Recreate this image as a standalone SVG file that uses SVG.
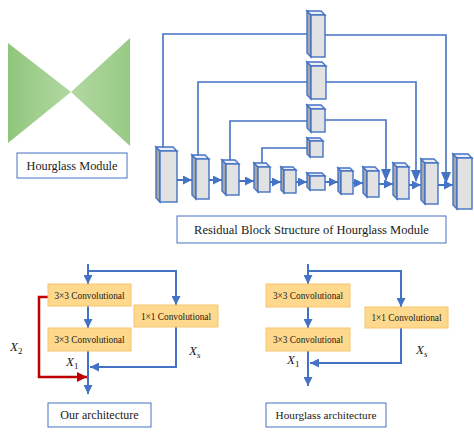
<svg xmlns="http://www.w3.org/2000/svg" width="474" height="436" viewBox="0 0 474 436">
<defs>
<linearGradient id="gL" x1="0" y1="0" x2="1" y2="0">
<stop offset="0" stop-color="#8fc67c"/><stop offset="1" stop-color="#b3d8a2"/>
</linearGradient>
<linearGradient id="gR" x1="0" y1="0" x2="1" y2="0">
<stop offset="0" stop-color="#b3d8a2"/><stop offset="1" stop-color="#97ca84"/>
</linearGradient>
<marker id="ab" viewBox="0 0 10 10" refX="10" refY="5" markerWidth="9" markerHeight="9" markerUnits="userSpaceOnUse" orient="auto">
<path d="M0,0 L10,5 L0,10 z" fill="#4472c4"/>
</marker>
<marker id="ar" viewBox="0 0 10 10" refX="10" refY="5" markerWidth="10" markerHeight="10" markerUnits="userSpaceOnUse" orient="auto">
<path d="M0,0 L10,5 L0,10 z" fill="#c00000"/>
</marker>
</defs>
<style>
.ln{fill:none;stroke:#4472c4;stroke-width:1.6}
.arw{fill:none;stroke:#4472c4;stroke-width:2;marker-end:url(#ab)}
.red{fill:none;stroke:#c00000;stroke-width:2.5;marker-end:url(#ar)}
.fr{fill:#e2e2e2;stroke:#4472c4;stroke-width:1.4}
.sd{fill:#a8a8a8;stroke:#4472c4;stroke-width:1.4}
.tp{fill:#e9eef8;stroke:#4472c4;stroke-width:1.4}
.lbl{fill:#ffffff;stroke:#4472c4;stroke-width:1}
.conv{fill:#fed88c;stroke:#f7c46e;stroke-width:1}
.t{font-family:"Liberation Serif","Times New Roman",serif;fill:#1a1a1a;text-anchor:middle}
.ct{font-family:"Liberation Serif","Times New Roman",serif;fill:#1a1a1a;text-anchor:middle;font-size:9.3px}
.x{font-family:"Liberation Serif","Times New Roman",serif;fill:#1a1a1a;font-style:italic;font-size:13px}
.sub{font-style:normal;font-size:9px}
</style>
<rect width="474" height="436" fill="#ffffff"/>

<g id="hourglass-shape">
<polygon points="8,43 8,143 71,92" fill="url(#gL)"/>
<polygon points="130,38 130,146 71,92" fill="url(#gR)"/>
</g>
<g id="hourglass-label">
<rect class="lbl" x="17" y="153" width="110" height="25"/>
<text class="t" x="72" y="170" font-size="12.3">Hourglass Module</text>
</g>

<g id="connectors-residual">
<polyline class="ln" points="163,147 163,34 307,34"/>
<polyline class="ln" points="325,35 446,35 446,182"/>
<polyline class="ln" points="198,155 198,82 307,82"/>
<polyline class="ln" points="326,82 416,82 416,181"/>
<polyline class="ln" points="230,160 230,121 307,121"/>
<polyline class="ln" points="325,120 386,120 386,180"/>
<polyline class="ln" points="262,163 262,148 307,148"/>
<path d="M446,172 L441,172 L446,184 L451,172 z" fill="#4472c4"/>
<path d="M416,170 L411,170 L416,182 L421,170 z" fill="#4472c4"/>
<path d="M386,169 L381,169 L386,181 L391,169 z" fill="#4472c4"/>
<line class="arw" x1="177" y1="180" x2="192" y2="180"/>
<line class="arw" x1="209" y1="180" x2="222" y2="180"/>
<line class="arw" x1="239" y1="181" x2="254" y2="181"/>
<line class="arw" x1="270" y1="182" x2="281" y2="182"/>
<line class="arw" x1="296" y1="182" x2="307" y2="182"/>
<line class="arw" x1="325" y1="182" x2="338" y2="182"/>
<line class="arw" x1="353" y1="183" x2="363" y2="183"/>
<line class="arw" x1="379" y1="184" x2="393" y2="184"/>
<line class="arw" x1="409" y1="185" x2="421" y2="185"/>
<line class="arw" x1="438" y1="185" x2="453" y2="185"/>
</g>

<g id="block-b1"><polygon class="sd" points="156,147 160,151 160,202 156,198"/><polygon class="tp" points="156,147 173,147 177,151 160,151"/><rect class="fr" x="160" y="151" width="17" height="51"/></g>
<g id="block-b2"><polygon class="sd" points="192,155 196,159 196,199 192,195"/><polygon class="tp" points="192,155 205,155 209,159 196,159"/><rect class="fr" x="196" y="159" width="13" height="40"/></g>
<g id="block-b3"><polygon class="sd" points="222,160 226,164 226,195 222,191"/><polygon class="tp" points="222,160 235,160 239,164 226,164"/><rect class="fr" x="226" y="164" width="13" height="31"/></g>
<g id="block-b4"><polygon class="sd" points="254,163 258,167 258,192 254,188"/><polygon class="tp" points="254,163 266,163 270,167 258,167"/><rect class="fr" x="258" y="167" width="12" height="25"/></g>
<g id="block-b5"><polygon class="sd" points="281,167 284,170 284,193 281,190"/><polygon class="tp" points="281,167 293,167 296,170 284,170"/><rect class="fr" x="284" y="170" width="12" height="23"/></g>
<g id="block-b6"><polygon class="sd" points="307,173 310,176 310,190 307,187"/><polygon class="tp" points="307,173 322,173 325,176 310,176"/><rect class="fr" x="310" y="176" width="15" height="14"/></g>
<g id="block-b7"><polygon class="sd" points="338,168 341,171 341,194 338,191"/><polygon class="tp" points="338,168 350,168 353,171 341,171"/><rect class="fr" x="341" y="171" width="12" height="23"/></g>
<g id="block-b8"><polygon class="sd" points="363,167 367,171 367,197 363,193"/><polygon class="tp" points="363,167 375,167 379,171 367,171"/><rect class="fr" x="367" y="171" width="12" height="26"/></g>
<g id="block-b9"><polygon class="sd" points="393,163 397,167 397,199 393,195"/><polygon class="tp" points="393,163 405,163 409,167 397,167"/><rect class="fr" x="397" y="167" width="12" height="32"/></g>
<g id="block-b10"><polygon class="sd" points="421,159 425,163 425,204 421,200"/><polygon class="tp" points="421,159 434,159 438,163 425,163"/><rect class="fr" x="425" y="163" width="13" height="41"/></g>
<g id="block-b11"><polygon class="sd" points="453,154 457,158 457,209 453,205"/><polygon class="tp" points="453,154 468,154 472,158 457,158"/><rect class="fr" x="457" y="158" width="15" height="51"/></g>
<g id="block-t1"><polygon class="sd" points="307,11 311,15 311,57 307,53"/><polygon class="tp" points="307,11 321,11 325,15 311,15"/><rect class="fr" x="311" y="15" width="14" height="42"/></g>
<g id="block-t2"><polygon class="sd" points="307,62 311,66 311,99 307,95"/><polygon class="tp" points="307,62 322,62 326,66 311,66"/><rect class="fr" x="311" y="66" width="15" height="33"/></g>
<g id="block-t3"><polygon class="sd" points="307,105 311,109 311,132 307,128"/><polygon class="tp" points="307,105 321,105 325,109 311,109"/><rect class="fr" x="311" y="109" width="14" height="23"/></g>
<g id="block-t4"><polygon class="sd" points="307,138 310,141 310,157 307,154"/><polygon class="tp" points="307,138 320,138 323,141 310,141"/><rect class="fr" x="310" y="141" width="13" height="16"/></g>

<g id="residual-label">
<rect class="lbl" x="177" y="216" width="269" height="27"/>
<text class="t" x="311.5" y="234" font-size="12.5">Residual Block Structure of Hourglass Module</text>
</g>

<g id="connectors-ours">
<line class="arw" x1="88" y1="264" x2="88" y2="284"/>
<polyline class="arw" points="88,271 176,271 176,305"/>
<line class="arw" x1="88" y1="306" x2="88" y2="328"/>
<polyline class="arw" points="176,327 176,367 90,367"/>
<line class="arw" x1="88" y1="351" x2="88" y2="394"/>
<polyline class="red" points="48,297 39,297 39,377 87,377"/>
</g>
<g id="ours-conv3a"><rect class="conv" x="48" y="284" width="83" height="22"/><text class="ct" x="89.5" y="298.5">3×3 Convolutional</text></g>
<g id="ours-conv3b"><rect class="conv" x="48" y="328" width="83" height="23"/><text class="ct" x="89.5" y="343">3×3 Convolutional</text></g>
<g id="ours-conv1"><rect class="conv" x="134" y="305" width="84" height="22"/><text class="ct" x="176" y="319.5">1×1 Convolutional</text></g>
<g id="ours-labels">
<text class="x" x="10" y="351">X<tspan class="sub" dy="3">2</tspan></text>
<text class="x" x="66" y="366">X<tspan class="sub" dy="3">1</tspan></text>
<text class="x" x="189" y="355">X<tspan font-size="9" dy="3">s</tspan></text>
</g>
<g id="ours-label">
<rect class="lbl" x="48" y="403" width="103" height="24"/>
<text class="t" x="99.5" y="419" font-size="12">Our architecture</text>
</g>

<g id="connectors-hg">
<line class="arw" x1="308" y1="264" x2="308" y2="284"/>
<polyline class="arw" points="308,271 401,271 401,307"/>
<line class="arw" x1="308" y1="307" x2="308" y2="328"/>
<polyline class="arw" points="401,328 401,363 310,363"/>
<line class="arw" x1="308" y1="351" x2="308" y2="386"/>
</g>
<g id="hg-conv3a"><rect class="conv" x="266" y="284" width="84" height="23"/><text class="ct" x="308" y="299">3×3 Convolutional</text></g>
<g id="hg-conv3b"><rect class="conv" x="266" y="328" width="84" height="23"/><text class="ct" x="308" y="343">3×3 Convolutional</text></g>
<g id="hg-conv1"><rect class="conv" x="365" y="307" width="83" height="21"/><text class="ct" x="406.5" y="321">1×1 Convolutional</text></g>
<g id="hg-labels">
<text class="x" x="287" y="364">X<tspan class="sub" dy="3">1</tspan></text>
<text class="x" x="416" y="354">X<tspan font-size="9" dy="3">s</tspan></text>
</g>
<g id="hg-label">
<rect class="lbl" x="266" y="403" width="120" height="24"/>
<text class="t" x="326" y="419" font-size="11.2">Hourglass architecture</text>
</g>
</svg>
